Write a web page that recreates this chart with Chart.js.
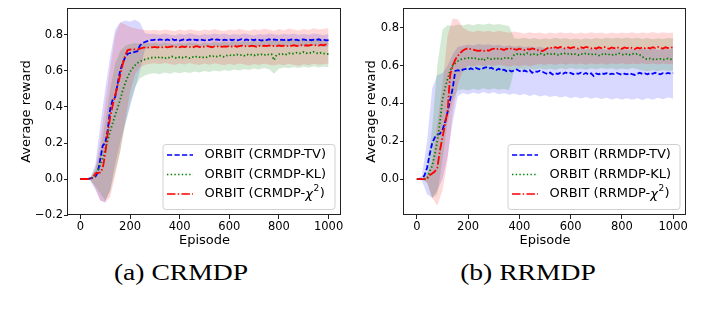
<!DOCTYPE html>
<html>
<head>
<meta charset="utf-8">
<script src="https://cdn.jsdelivr.net/npm/chart.js@4.4.0/dist/chart.umd.min.js"></script>
<style>
  html, body { margin: 0; padding: 0; background: #fff; }
  body { width: 713px; height: 331px; position: relative; overflow: hidden; }
  #chartA { position: absolute; left: 0; top: 0; }
  #chartB { position: absolute; left: 350px; top: 0; }
  .caption {
    position: absolute; top: 261px; width: 200px; height: 23px;
    font-family: "Liberation Serif", "Times New Roman", serif; font-size: 23px; line-height: 23px;
    text-align: center; color: #000; transform: scaleX(1.2);
  }
</style>
</head>
<body>
<canvas id="chartA" width="350" height="250"></canvas>
<canvas id="chartB" width="363" height="250"></canvas>
<div class="caption" style="left:81px">(a) CRMDP</div>
<div class="caption" style="left:428px">(b) RRMDP</div>
<script>
// x grid: one mean value every 10 episodes, band edges every 20
const episodes = Array.from({ length: 101 }, (_, i) => i * 10);
const bandEpisodes = Array.from({ length: 51 }, (_, i) => i * 20);

const xTicks = [0, 200, 400, 600, 800, 1000];
const yTicksA = [-0.2, 0.0, 0.2, 0.4, 0.6, 0.8];
const yTicksB = [0.0, 0.2, 0.4, 0.6, 0.8];

const labelsA = ["ORBIT (CRMDP-TV)", "ORBIT (CRMDP-KL)", "ORBIT (CRMDP-χ²)"];
const labelsB = ["ORBIT (RRMDP-TV)", "ORBIT (RRMDP-KL)", "ORBIT (RRMDP-χ²)"];

// ---- CRMDP: mean reward
const crTV = [0, 0, 0, 0, 0.003, 0.006,
  0.012, 0.035, 0.11, 0.185, 0.2, 0.27, 0.39, 0.44, 0.455, 0.53, 0.6, 0.645, 0.675, 0.695, 0.7, 0.703, 0.706, 0.71, 0.742, 0.755, 0.761, 0.766, 0.771, 0.772,
  0.774, 0.771, 0.776, 0.773, 0.770, 0.775, 0.772, 0.777, 0.771, 0.774,
  0.769, 0.773, 0.776, 0.772, 0.775, 0.770, 0.774, 0.771, 0.776, 0.773,
  0.770, 0.774, 0.772, 0.777, 0.771, 0.775, 0.773, 0.769, 0.774, 0.772,
  0.776, 0.771, 0.774, 0.770, 0.773, 0.777, 0.772, 0.775, 0.770, 0.774,
  0.771, 0.776, 0.773, 0.769, 0.774, 0.772, 0.776, 0.771, 0.775, 0.773,
  0.770, 0.774, 0.772, 0.777, 0.771, 0.775, 0.772, 0.774, 0.770, 0.773,
  0.776, 0.772, 0.775, 0.771, 0.774, 0.772, 0.776, 0.771, 0.774, 0.770,
  0.772];
const crKL = [0, 0, 0, 0, 0.002, 0.008,
  0.02, 0.05, 0.075, 0.115, 0.165, 0.215, 0.265, 0.31, 0.355, 0.395, 0.44, 0.49, 0.53, 0.565, 0.595, 0.615, 0.632, 0.645, 0.652, 0.66, 0.664, 0.668, 0.672, 0.675,
  0.676, 0.671, 0.679, 0.674, 0.669, 0.677, 0.673, 0.680, 0.675, 0.670,
  0.678, 0.674, 0.681, 0.676, 0.672, 0.679, 0.675, 0.682, 0.677, 0.673,
  0.680, 0.676, 0.683, 0.678, 0.685, 0.680, 0.687, 0.682, 0.678, 0.686,
  0.690, 0.684, 0.688, 0.692, 0.686, 0.690, 0.685, 0.693, 0.688, 0.691,
  0.686, 0.694, 0.689, 0.692, 0.687, 0.695, 0.690, 0.693, 0.660, 0.689,
  0.694, 0.690, 0.697, 0.692, 0.699, 0.694, 0.698, 0.702, 0.696, 0.700,
  0.705, 0.698, 0.703, 0.699, 0.706, 0.700, 0.696, 0.702, 0.698, 0.695,
  0.694];
const crChi = [0, 0, 0, 0, 0.002, 0.005,
  0.03, 0.034, 0.036, 0.06, 0.14, 0.255, 0.345, 0.41, 0.465, 0.52, 0.575, 0.635, 0.685, 0.715, 0.72, 0.718, 0.721, 0.719, 0.724, 0.728, 0.731, 0.729, 0.733, 0.731,
  0.734, 0.730, 0.735, 0.732, 0.736, 0.731, 0.734, 0.737, 0.732, 0.735,
  0.731, 0.736, 0.733, 0.737, 0.734, 0.730, 0.735, 0.738, 0.733, 0.736,
  0.734, 0.738, 0.735, 0.732, 0.737, 0.735, 0.739, 0.734, 0.737, 0.735,
  0.739, 0.736, 0.740, 0.735, 0.738, 0.741, 0.736, 0.739, 0.737, 0.741,
  0.738, 0.735, 0.740, 0.737, 0.741, 0.738, 0.742, 0.737, 0.740, 0.738,
  0.742, 0.739, 0.741, 0.737, 0.742, 0.740, 0.743, 0.739, 0.741, 0.744,
  0.740, 0.743, 0.741, 0.745, 0.742, 0.744, 0.741, 0.746, 0.743, 0.748,
  0.752];

// ---- CRMDP: shaded spread (upper / lower edge)
const crTVHi = [0, 0, 0.01, 0.08, 0.3, 0.5, 0.68, 0.83, 0.87, 0.88, 0.875, 0.885, 0.87, 0.81, 0.805,
  0.806, 0.801, 0.809, 0.803, 0.798, 0.807, 0.802, 0.810, 0.804, 0.799,
  0.806, 0.801, 0.808, 0.803, 0.809, 0.800, 0.805, 0.802, 0.808, 0.803,
  0.799, 0.806, 0.802, 0.809, 0.804, 0.800, 0.807, 0.803, 0.808, 0.801,
  0.806, 0.802, 0.809, 0.804, 0.800, 0.805];
const crTVLo = [0, 0, -0.01, -0.06, -0.12, -0.13, -0.06, 0.08, 0.2, 0.3, 0.4, 0.5, 0.6, 0.72, 0.735,
  0.738, 0.733, 0.741, 0.736, 0.731, 0.739, 0.734, 0.742, 0.737, 0.732,
  0.739, 0.735, 0.741, 0.736, 0.742, 0.733, 0.738, 0.735, 0.741, 0.737,
  0.732, 0.739, 0.735, 0.742, 0.737, 0.733, 0.740, 0.736, 0.741, 0.734,
  0.739, 0.735, 0.742, 0.737, 0.733, 0.738];
const crKLHi = [0, 0, 0.005, 0.06, 0.16, 0.32, 0.5, 0.64, 0.71, 0.74, 0.75, 0.755, 0.752, 0.758, 0.754,
  0.757, 0.751, 0.759, 0.753, 0.748, 0.756, 0.752, 0.760, 0.754, 0.750,
  0.758, 0.753, 0.761, 0.756, 0.763, 0.758, 0.765, 0.760, 0.766, 0.761,
  0.768, 0.763, 0.770, 0.765, 0.771, 0.766, 0.772, 0.768, 0.774, 0.769,
  0.775, 0.771, 0.776, 0.772, 0.770, 0.768];
const crKLLo = [0, 0, -0.005, -0.04, -0.08, -0.12, -0.07, 0.04, 0.15, 0.3, 0.42, 0.51, 0.56, 0.575, 0.585,
  0.588, 0.582, 0.591, 0.585, 0.593, 0.587, 0.595, 0.589, 0.597, 0.592,
  0.600, 0.594, 0.603, 0.597, 0.606, 0.600, 0.609, 0.603, 0.611, 0.606,
  0.614, 0.608, 0.616, 0.610, 0.585, 0.613, 0.620, 0.615, 0.622, 0.617,
  0.624, 0.618, 0.626, 0.620, 0.625, 0.621];
const crChiHi = [0, 0, 0.005, 0.05, 0.22, 0.42, 0.62, 0.8, 0.87, 0.86, 0.845, 0.838, 0.832, 0.828, 0.825,
  0.829, 0.823, 0.831, 0.826, 0.821, 0.830, 0.824, 0.832, 0.827, 0.822,
  0.830, 0.825, 0.833, 0.827, 0.822, 0.831, 0.826, 0.834, 0.828, 0.823,
  0.832, 0.826, 0.835, 0.829, 0.824, 0.833, 0.827, 0.836, 0.830, 0.825,
  0.834, 0.828, 0.837, 0.831, 0.835, 0.838];
const crChiLo = [0, 0, -0.005, -0.05, -0.12, -0.13, -0.1, 0.02, 0.15, 0.32, 0.48, 0.58, 0.62, 0.635, 0.64,
  0.643, 0.637, 0.645, 0.639, 0.634, 0.642, 0.636, 0.644, 0.638, 0.633,
  0.641, 0.635, 0.643, 0.637, 0.632, 0.640, 0.634, 0.642, 0.636, 0.631,
  0.639, 0.633, 0.641, 0.635, 0.630, 0.638, 0.632, 0.640, 0.634, 0.629,
  0.637, 0.632, 0.640, 0.635, 0.638, 0.642];

// ---- RRMDP: mean reward
const rrTV = [0, 0, 0,
  0.02, 0.06, 0.13, 0.19, 0.22, 0.235, 0.24, 0.26, 0.3, 0.355, 0.42, 0.48,
  0.572, 0.576, 0.571, 0.579, 0.583, 0.578, 0.586, 0.581, 0.588, 0.583, 0.579, 0.587, 0.592, 0.584, 0.589,
  0.582, 0.577, 0.584, 0.574, 0.579, 0.571, 0.576, 0.569, 0.575, 0.580,
  0.572, 0.567, 0.574, 0.569, 0.576, 0.562, 0.571, 0.567, 0.573, 0.568,
  0.561, 0.556, 0.563, 0.553, 0.560, 0.556, 0.562, 0.557, 0.564, 0.558,
  0.562, 0.555, 0.560, 0.557, 0.563, 0.556, 0.561, 0.553, 0.559, 0.545,
  0.558, 0.554, 0.561, 0.556, 0.560, 0.553, 0.558, 0.555, 0.561, 0.556,
  0.552, 0.558, 0.554, 0.560, 0.555, 0.551, 0.557, 0.562, 0.556, 0.559,
  0.554, 0.561, 0.557, 0.563, 0.558, 0.554, 0.560, 0.557, 0.562, 0.558,
  0.561];
const rrKL = [0, 0, 0, 0, 0.002,
  0.04, 0.07, 0.13, 0.2, 0.3, 0.42, 0.48, 0.53, 0.575, 0.6, 0.612, 0.624, 0.633, 0.636, 0.638,
  0.641, 0.636, 0.643, 0.638, 0.634, 0.640, 0.626, 0.637, 0.642, 0.635, 0.639, 0.633, 0.640, 0.636, 0.642, 0.637, 0.641, 0.638,
  0.658, 0.662,
  0.657, 0.664, 0.659, 0.666, 0.660, 0.655, 0.663, 0.658, 0.665, 0.661,
  0.656, 0.663, 0.659, 0.666, 0.661, 0.657, 0.664, 0.660, 0.667, 0.662,
  0.658, 0.665, 0.660, 0.656, 0.663, 0.659, 0.666, 0.661, 0.657, 0.664,
  0.659, 0.654, 0.662, 0.657, 0.664, 0.659, 0.655, 0.662, 0.658, 0.665,
  0.660, 0.656, 0.663, 0.658, 0.664, 0.659, 0.662, 0.657, 0.648, 0.637,
  0.634, 0.638, 0.633, 0.637, 0.632, 0.636, 0.631, 0.635, 0.638, 0.634,
  0.636];
const rrChi = [0, 0, 0, 0, 0.001,
  0.02, 0.03, 0.04, 0.06, 0.15, 0.22, 0.29, 0.36, 0.55, 0.6, 0.632, 0.652, 0.668, 0.68, 0.688,
  0.692, 0.688, 0.685, 0.681, 0.678, 0.680, 0.676, 0.683, 0.679, 0.686,
  0.690, 0.685, 0.692, 0.687, 0.683, 0.690, 0.686, 0.693, 0.688, 0.684,
  0.690, 0.686, 0.683, 0.689, 0.685, 0.691, 0.687, 0.683, 0.680, 0.677,
  0.684, 0.693, 0.697, 0.691, 0.698, 0.693, 0.699, 0.694, 0.690, 0.697,
  0.692, 0.698, 0.694, 0.690, 0.697, 0.693, 0.699, 0.695, 0.691, 0.696,
  0.690, 0.697, 0.693, 0.699, 0.694, 0.689, 0.696, 0.692, 0.698, 0.693,
  0.689, 0.696, 0.692, 0.698, 0.693, 0.688, 0.695, 0.691, 0.697, 0.692,
  0.696, 0.691, 0.698, 0.693, 0.699, 0.694, 0.690, 0.697, 0.693, 0.695,
  0.698];

// ---- RRMDP: shaded spread (upper / lower edge)
const rrTVHi = [0, 0.02, 0.2, 0.48, 0.55, 0.56, 0.6, 0.66, 0.7, 0.705, 0.712, 0.706, 0.715, 0.709, 0.713,
  0.706, 0.711, 0.703, 0.708, 0.700, 0.705, 0.698, 0.703, 0.695, 0.700,
  0.692, 0.697, 0.690, 0.695, 0.688, 0.693, 0.687, 0.692, 0.685, 0.690,
  0.686, 0.691, 0.684, 0.689, 0.685, 0.690, 0.683, 0.688, 0.684, 0.689,
  0.685, 0.690, 0.684, 0.689, 0.686, 0.690];
const rrTVLo = [0, -0.01, -0.08, -0.1, -0.06, 0.0, 0.12, 0.3, 0.44, 0.455, 0.447, 0.458, 0.45, 0.461, 0.452,
  0.459, 0.449, 0.456, 0.446, 0.453, 0.443, 0.450, 0.440, 0.447, 0.437,
  0.444, 0.434, 0.441, 0.431, 0.438, 0.428, 0.436, 0.426, 0.434, 0.425,
  0.432, 0.423, 0.430, 0.421, 0.429, 0.420, 0.428, 0.419, 0.427, 0.418,
  0.428, 0.420, 0.430, 0.422, 0.431, 0.425];
const rrKLHi = [0, 0, 0.04, 0.28, 0.6, 0.79, 0.815, 0.81, 0.818, 0.812, 0.82, 0.814, 0.822, 0.816, 0.823,
  0.817, 0.821, 0.815, 0.81, 0.745,
  0.742, 0.748, 0.741, 0.746, 0.739, 0.745, 0.740, 0.747, 0.741, 0.746,
  0.739, 0.744, 0.738, 0.745, 0.740, 0.746, 0.741, 0.747, 0.742, 0.748,
  0.743, 0.749, 0.742, 0.747, 0.741, 0.746, 0.740, 0.745, 0.741, 0.746, 0.743];
const rrKLLo = [0, 0, -0.02, -0.1, -0.08, 0.1, 0.3, 0.42, 0.47, 0.475, 0.468, 0.478, 0.471, 0.48, 0.473,
  0.479, 0.472, 0.477, 0.47, 0.575,
  0.582, 0.576, 0.585, 0.578, 0.586, 0.579, 0.584, 0.577, 0.586, 0.580,
  0.587, 0.581, 0.585, 0.578, 0.586, 0.580, 0.588, 0.582, 0.586, 0.579,
  0.585, 0.580, 0.587, 0.581, 0.574, 0.570, 0.576, 0.571, 0.577, 0.572, 0.574];
const rrChiHi = [0, 0, 0.02, 0.1, 0.3, 0.5, 0.76, 0.85, 0.845, 0.8, 0.785, 0.778, 0.786, 0.779, 0.784,
  0.777, 0.785, 0.779, 0.774, 0.781, 0.775, 0.770, 0.777, 0.771, 0.776,
  0.769, 0.775, 0.770, 0.777, 0.771, 0.776, 0.769, 0.775, 0.770, 0.777,
  0.771, 0.776, 0.769, 0.775, 0.770, 0.776, 0.771, 0.777, 0.770, 0.775,
  0.771, 0.778, 0.772, 0.777, 0.773, 0.776];
const rrChiLo = [0, 0, -0.02, -0.1, -0.14, -0.06, 0.1, 0.35, 0.5, 0.575, 0.6, 0.595, 0.603, 0.597, 0.604,
  0.598, 0.605, 0.599, 0.594, 0.602, 0.596, 0.603, 0.597, 0.604, 0.609,
  0.603, 0.610, 0.604, 0.611, 0.605, 0.612, 0.606, 0.611, 0.605, 0.612,
  0.606, 0.611, 0.605, 0.612, 0.607, 0.613, 0.606, 0.612, 0.607, 0.613,
  0.607, 0.612, 0.606, 0.612, 0.608, 0.611];

const FONT = '"DejaVu Sans", Verdana, sans-serif';
Chart.defaults.font.family = FONT;
Chart.defaults.color = '#000';

const styles = [
  { color: '#0000ff', band: 'rgba(0,0,255,0.15)', dash: [5.2, 2.3] },      // TV, dashed
  { color: '#008000', band: 'rgba(0,128,0,0.17)', dash: [1.4, 2.3] },      // KL, dotted
  { color: '#ff0000', band: 'rgba(255,0,0,0.15)', dash: [8.5, 2.2, 1.5, 2.2] } // chi2, dash-dot
];

function pts(xs, ys) {
  return xs.map((x, i) => ({ x: x, y: ys[i] }));
}

function buildDatasets(means, bands) {
  const sets = [];
  // shaded bands first, each upper edge fills down to the next dataset (its lower edge)
  bands.forEach((b, k) => {
    sets.push({ data: pts(bandEpisodes, b[0]), borderColor: 'transparent', borderWidth: 0,
      backgroundColor: styles[k].band, fill: '+1', pointRadius: 0, order: 6 - k });
    sets.push({ data: pts(bandEpisodes, b[1]), borderColor: 'transparent', borderWidth: 0,
      fill: false, pointRadius: 0, order: 6 - k });
  });
  means.forEach((m, k) => {
    sets.push({ data: pts(episodes, m), borderColor: styles[k].color, borderWidth: 1.8,
      borderDash: styles[k].dash, borderCapStyle: 'butt', fill: false, pointRadius: 0, order: 3 - k });
  });
  return sets;
}

// label text with a math-style chi squared
function drawLabel(ctx, text, x, y) {
  const base = '13px ' + FONT;
  ctx.font = base;
  const i = text.indexOf('χ²');
  if (i < 0) { ctx.fillText(text, x, y); return; }
  const head = text.slice(0, i), tail = text.slice(i + 2);
  ctx.fillText(head, x, y);
  x += ctx.measureText(head).width;
  ctx.font = 'italic 13px ' + FONT;
  ctx.fillText('χ', x, y + 1);
  x += ctx.measureText('χ').width + 0.5;
  ctx.font = '9px ' + FONT;
  ctx.fillText('2', x, y - 5);
  x += ctx.measureText('2').width + 0.5;
  ctx.font = base;
  ctx.fillText(tail, x, y);
}

// axes frame on all four sides + boxed legend in the lower right corner
const framePlugin = {
  id: 'frameLegend',
  afterDraw(chart, args, opts) {
    const { ctx, chartArea: a } = chart;
    ctx.save();
    ctx.strokeStyle = '#222';
    ctx.lineWidth = 1;
    ctx.strokeRect(Math.round(a.left) - 0.5, Math.round(a.top) + 0.5,
      Math.round(a.right) - Math.round(a.left), Math.round(a.bottom) - Math.round(a.top) - 1);

    const w = 172, h = 65;
    const bx = a.right - 6.5 - w, by = a.bottom - 6 - h;
    ctx.beginPath();
    ctx.roundRect(bx + 0.5, by + 0.5, w, h, 3);
    ctx.fillStyle = 'rgba(255,255,255,0.8)';
    ctx.fill();
    ctx.strokeStyle = '#d0d0d0';
    ctx.stroke();

    const rows = [11, 30.5, 50];
    opts.labels.forEach((lab, k) => {
      const y = by + rows[k];
      ctx.beginPath();
      ctx.setLineDash(styles[k].dash);
      ctx.lineCap = 'butt';
      ctx.strokeStyle = styles[k].color;
      ctx.lineWidth = 1.6;
      ctx.moveTo(bx + 4.5, y);
      ctx.lineTo(bx + 30.5, y);
      ctx.stroke();
      ctx.setLineDash([]);
      ctx.fillStyle = '#000';
      ctx.textBaseline = 'middle';
      ctx.textAlign = 'left';
      drawLabel(ctx, lab, bx + 42, y);
    });
    ctx.restore();
  }
};

function makeChart(id, means, bands, yTicks, yMin, yMax, axisW, padRight, titlePad, labels) {
  const tickFont = { size: 11.5 };
  return new Chart(document.getElementById(id), {
    type: 'line',
    data: { datasets: buildDatasets(means, bands) },
    plugins: [framePlugin],
    options: {
      responsive: false,
      animation: false,
      layout: { padding: { top: 8, right: padRight, left: 0, bottom: 0 } },
      plugins: {
        legend: { display: false },
        tooltip: { enabled: false },
        frameLegend: { labels: labels }
      },
      scales: {
        x: {
          type: 'linear', min: -50, max: 1050,
          afterBuildTicks: s => { s.ticks = xTicks.map(v => ({ value: v })); },
          afterFit: s => { s.height = 35; },
          ticks: { font: tickFont, padding: 1, maxRotation: 0, callback: v => String(v) },
          grid: { drawOnChartArea: false, drawTicks: true, tickLength: 4, color: '#222' },
          border: { display: false },
          title: { display: true, text: 'Episode', font: { size: 13, lineHeight: 1.2 },
            padding: { top: 0, bottom: 2 } }
        },
        y: {
          type: 'linear', min: yMin, max: yMax,
          afterBuildTicks: s => { s.ticks = yTicks.map(v => ({ value: v })); },
          afterFit: s => { s.width = axisW; },
          ticks: { font: tickFont, padding: 1,
            callback: v => v.toFixed(1).replace('-', '\u2212') },
          grid: { drawOnChartArea: false, drawTicks: true, tickLength: 4, color: '#222' },
          border: { display: false },
          title: { display: true, text: 'Average reward', font: { size: 13, lineHeight: 1.2 },
            padding: { top: titlePad, bottom: 0 } }
        }
      }
    }
  });
}

makeChart('chartA', [crTV, crKL, crChi],
  [[crTVHi, crTVLo], [crKLHi, crKLLo], [crChiHi, crChiLo]],
  yTicksA, -0.2, 0.95, 68, 9, 19, labelsA);

makeChart('chartB', [rrTV, rrKL, rrChi],
  [[rrTVHi, rrTVLo], [rrKLHi, rrKLLo], [rrChiHi, rrChiLo]],
  yTicksB, -0.19, 0.905, 54, 27, 14, labelsB);
</script>
</body>
</html>
